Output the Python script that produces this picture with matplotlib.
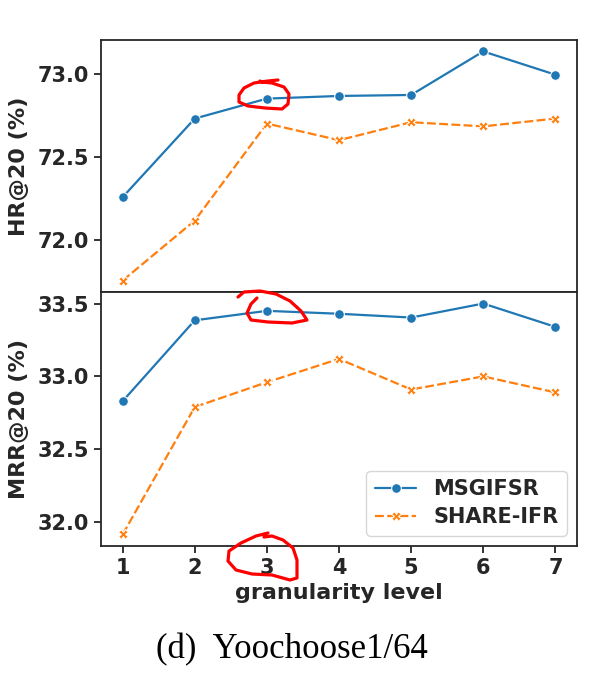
import matplotlib
matplotlib.use("Agg")
import matplotlib.pyplot as plt
import seaborn as sns

levels = [1, 2, 3, 4, 5, 6, 7]
hr_msgifsr = [72.257, 72.73, 72.85, 72.866, 72.872, 73.134, 72.994]
hr_share = [71.755, 72.116, 72.70, 72.60, 72.708, 72.683, 72.73]
mrr_msgifsr = [32.83, 33.385, 33.45, 33.43, 33.404, 33.50, 33.34]
mrr_share = [31.915, 32.79, 32.96, 33.12, 32.91, 33.00, 32.89]

sns.set_theme(style="ticks", palette="tab10")
plt.rcParams["font.family"] = ["DejaVu Sans"]
plt.rcParams["font.weight"] = "bold"
plt.rcParams["axes.labelweight"] = "bold"
dark = "#262626"
blue, orange = "#1f77b4", "#ff7f0e"

fig = plt.figure(figsize=(5.9, 6.81), dpi=100)
ax1 = fig.add_axes([0.1712, 0.5712, 0.8068, 0.3701])
ax2 = fig.add_axes([0.1712, 0.1982, 0.8068, 0.3730], sharex=ax1)

for ax, a, b, lab in [(ax1, hr_msgifsr, hr_share, "HR@20 (%)"),
                      (ax2, mrr_msgifsr, mrr_share, "MRR@20 (%)")]:
    ax.plot(levels, a, color=blue, lw=1.6, marker="o", ms=7,
            mec="white", mew=0.8, label="MSGIFSR")
    ax.plot(levels, b, color=orange, lw=1.6, ls=(0, (4, 1.5)), marker="X",
            ms=6.5, mec="white", mew=0.8, label="SHARE-IFR")
    ax.set_ylabel(lab, fontsize=16, color=dark, labelpad=6)
    ax.tick_params(labelsize=15, colors=dark, length=5, width=1.3)
    for s in ax.spines.values():
        s.set_linewidth(1.3)
        s.set_color(dark)

ax1.set_xlim(0.7, 7.3)
ax1.set_xticks(levels)
ax1.set_yticks([72.0, 72.5, 73.0])
ax2.set_yticks([32.0, 32.5, 33.0, 33.5])
ax1.tick_params(axis="x", bottom=False, labelbottom=False)
ax2.set_xlabel("granularity level", fontsize=16, color=dark, labelpad=4)

leg = ax2.legend(loc="lower right", fontsize=15, frameon=True,
                 borderpad=0.4, handlelength=2.0, labelspacing=0.4)
for t in leg.get_texts():
    t.set_color(dark)
    t.set_fontweight("bold")

fig.text(0.495, 0.033, "(d)  Yoochoose1/64", fontsize=25, family="Liberation Serif",
         fontweight="normal", ha="center", va="baseline", color="black")

# red hand-drawn annotation strokes (figure pixel coordinates)
strokes = [
    [(278, 80), (268, 81), (254, 83), (244, 88), (239, 95), (239, 102), (248, 106),
     (265, 108), (282, 109), (288, 104), (289, 94), (284, 87), (272, 83), (262, 82), (260, 81)],
    [(238, 297), (244, 292), (260, 291), (276, 294), (290, 301), (301, 311),
     (307, 320), (292, 323), (268, 322), (251, 320), (247, 313), (251, 304), (257, 298)],
    [(268, 533), (256, 536), (241, 543), (229, 551), (228, 561), (236, 570), (252, 574),
     (272, 575), (290, 580), (297, 578), (297, 560), (293, 548), (283, 540), (272, 536), (264, 537)],
]
W, H = 590, 681
for st in strokes:
    xs = [p[0] / W for p in st]
    ys = [1 - p[1] / H for p in st]
    fig.add_artist(plt.Line2D(xs, ys, transform=fig.transFigure, color="red",
                              lw=2.3, solid_capstyle="round", solid_joinstyle="round"))

fig.savefig("out.png", dpi=100)
